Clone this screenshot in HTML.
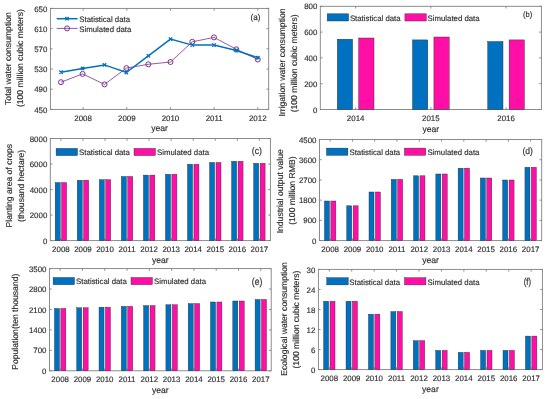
<!DOCTYPE html>
<html><head><meta charset="utf-8"><style>
html,body{margin:0;padding:0;background:#fff;width:550px;height:399px;overflow:hidden}
svg{display:block;font-family:"Liberation Sans",sans-serif;will-change:transform}
text{fill:#303030;stroke:#303030;stroke-width:0.16px;text-rendering:geometricPrecision}
</style></head><body>
<svg width="550" height="399" viewBox="0 0 550 399">
<rect width="550" height="399" fill="#fff"/>
<rect x="50.40" y="8.40" width="218.30" height="101.00" fill="none" stroke="#808080" stroke-width="0.9"/>
<path d="M83.14 109.40V107.20M83.14 8.40V10.60M126.80 109.40V107.20M126.80 8.40V10.60M170.47 109.40V107.20M170.47 8.40V10.60M214.12 109.40V107.20M214.12 8.40V10.60M257.78 109.40V107.20M257.78 8.40V10.60M50.40 109.40H52.60M268.70 109.40H266.50M50.40 89.20H52.60M268.70 89.20H266.50M50.40 69.00H52.60M268.70 69.00H266.50M50.40 48.80H52.60M268.70 48.80H266.50M50.40 28.60H52.60M268.70 28.60H266.50M50.40 8.40H52.60M268.70 8.40H266.50" stroke="#808080" stroke-width="0.9" fill="none"/>
<text x="83.14" y="120.70" text-anchor="middle" font-size="7.9">2008</text>
<text x="126.80" y="120.70" text-anchor="middle" font-size="7.9">2009</text>
<text x="170.47" y="120.70" text-anchor="middle" font-size="7.9">2010</text>
<text x="214.12" y="120.70" text-anchor="middle" font-size="7.9">2011</text>
<text x="257.78" y="120.70" text-anchor="middle" font-size="7.9">2012</text>
<text x="47.40" y="112.50" text-anchor="end" font-size="7.9">450</text>
<text x="47.40" y="92.30" text-anchor="end" font-size="7.9">490</text>
<text x="47.40" y="72.10" text-anchor="end" font-size="7.9">530</text>
<text x="47.40" y="51.90" text-anchor="end" font-size="7.9">570</text>
<text x="47.40" y="31.70" text-anchor="end" font-size="7.9">610</text>
<text x="47.40" y="11.50" text-anchor="end" font-size="7.9">650</text>
<polyline points="61.00,82.20 82.60,73.90 104.50,84.40 126.40,68.10 148.30,64.30 170.50,62.00 192.30,41.80 214.00,37.40 236.30,49.30 257.80,59.50" fill="none" stroke="#7E2F8E" stroke-width="0.8"/>
<circle cx="61.00" cy="82.20" r="2.5" fill="none" stroke="#7E2F8E" stroke-width="1.0"/>
<circle cx="82.60" cy="73.90" r="2.5" fill="none" stroke="#7E2F8E" stroke-width="1.0"/>
<circle cx="104.50" cy="84.40" r="2.5" fill="none" stroke="#7E2F8E" stroke-width="1.0"/>
<circle cx="126.40" cy="68.10" r="2.5" fill="none" stroke="#7E2F8E" stroke-width="1.0"/>
<circle cx="148.30" cy="64.30" r="2.5" fill="none" stroke="#7E2F8E" stroke-width="1.0"/>
<circle cx="170.50" cy="62.00" r="2.5" fill="none" stroke="#7E2F8E" stroke-width="1.0"/>
<circle cx="192.30" cy="41.80" r="2.5" fill="none" stroke="#7E2F8E" stroke-width="1.0"/>
<circle cx="214.00" cy="37.40" r="2.5" fill="none" stroke="#7E2F8E" stroke-width="1.0"/>
<circle cx="236.30" cy="49.30" r="2.5" fill="none" stroke="#7E2F8E" stroke-width="1.0"/>
<circle cx="257.80" cy="59.50" r="2.5" fill="none" stroke="#7E2F8E" stroke-width="1.0"/>
<polyline points="61.00,72.20 82.60,68.40 104.50,64.90 126.40,72.50 148.30,55.80 170.50,39.10 192.30,45.10 214.00,45.10 236.30,50.50 257.80,57.70" fill="none" stroke="#0070C0" stroke-width="1.5"/>
<path d="M59.30 70.50L62.70 73.90M59.30 73.90L62.70 70.50M80.90 66.70L84.30 70.10M80.90 70.10L84.30 66.70M102.80 63.20L106.20 66.60M102.80 66.60L106.20 63.20M124.70 70.80L128.10 74.20M124.70 74.20L128.10 70.80M146.60 54.10L150.00 57.50M146.60 57.50L150.00 54.10M168.80 37.40L172.20 40.80M168.80 40.80L172.20 37.40M190.60 43.40L194.00 46.80M190.60 46.80L194.00 43.40M212.30 43.40L215.70 46.80M212.30 46.80L215.70 43.40M234.60 48.80L238.00 52.20M234.60 52.20L238.00 48.80M256.10 56.00L259.50 59.40M256.10 59.40L259.50 56.00" stroke="#0070C0" stroke-width="1.3" fill="none"/>
<path d="M56.7 18.7H77.6" stroke="#0070C0" stroke-width="1.5"/>
<path d="M65.30 17.00L68.70 20.40M65.30 20.40L68.70 17.00" stroke="#0070C0" stroke-width="1.3"/>
<text x="79.30" y="21.50" text-anchor="start" font-size="7.8">Statistical data</text>
<path d="M56.7 28.4H77.6" stroke="#7E2F8E" stroke-width="0.8"/>
<circle cx="67.1" cy="28.4" r="2.5" fill="none" stroke="#7E2F8E" stroke-width="1.0"/>
<text x="79.30" y="31.90" text-anchor="start" font-size="7.8">Simulated data</text>
<text transform="translate(255.45,20.21) scale(1,1.04)" text-anchor="middle" font-size="8.1">(a)</text>
<text x="159.55" y="131.30" text-anchor="middle" font-size="8.6">year</text>
<text transform="translate(11.20,58.60) rotate(-90)" text-anchor="middle" font-size="8.6">Total water consumption</text>
<text transform="translate(22.70,58.10) rotate(-90)" text-anchor="middle" font-size="8.6">(100 million cubic meters)</text>
<rect x="320.30" y="6.30" width="221.10" height="103.20" fill="none" stroke="#808080" stroke-width="0.9"/>
<path d="M355.65 109.50V107.30M355.65 6.30V8.50M430.85 109.50V107.30M430.85 6.30V8.50M506.05 109.50V107.30M506.05 6.30V8.50M320.30 109.50H322.50M541.40 109.50H539.20M320.30 83.70H322.50M541.40 83.70H539.20M320.30 57.90H322.50M541.40 57.90H539.20M320.30 32.10H322.50M541.40 32.10H539.20M320.30 6.30H322.50M541.40 6.30H539.20" stroke="#808080" stroke-width="0.9" fill="none"/>
<text x="355.65" y="120.80" text-anchor="middle" font-size="7.9">2014</text>
<text x="430.85" y="120.80" text-anchor="middle" font-size="7.9">2015</text>
<text x="506.05" y="120.80" text-anchor="middle" font-size="7.9">2016</text>
<text x="317.30" y="112.60" text-anchor="end" font-size="7.9">0</text>
<text x="317.30" y="86.80" text-anchor="end" font-size="7.9">200</text>
<text x="317.30" y="61.00" text-anchor="end" font-size="7.9">400</text>
<text x="317.30" y="35.20" text-anchor="end" font-size="7.9">600</text>
<text x="317.30" y="9.40" text-anchor="end" font-size="7.9">800</text>
<rect x="337.30" y="39.20" width="15.30" height="70.30" fill="#0070C0" stroke="#262626" stroke-width="0.4"/>
<rect x="412.50" y="39.90" width="15.30" height="69.60" fill="#0070C0" stroke="#262626" stroke-width="0.4"/>
<rect x="487.70" y="41.50" width="15.30" height="68.00" fill="#0070C0" stroke="#262626" stroke-width="0.4"/>
<rect x="358.70" y="38.00" width="15.30" height="71.50" fill="#FF0FA6" stroke="#262626" stroke-width="0.4"/>
<rect x="433.90" y="37.00" width="15.30" height="72.50" fill="#FF0FA6" stroke="#262626" stroke-width="0.4"/>
<rect x="509.10" y="39.90" width="15.30" height="69.60" fill="#FF0FA6" stroke="#262626" stroke-width="0.4"/>
<rect x="327.20" y="13.80" width="21.40" height="7.20" fill="#0070C0" stroke="#262626" stroke-width="0.4"/>
<text x="349.90" y="20.70" text-anchor="start" font-size="7.8">Statistical data</text>
<rect x="404.90" y="13.80" width="21.40" height="7.20" fill="#FF0FA6" stroke="#262626" stroke-width="0.4"/>
<text x="427.60" y="20.70" text-anchor="start" font-size="7.8">Simulated data</text>
<text transform="translate(527.65,17.31) scale(1,1.05)" text-anchor="middle" font-size="7.6">(b)</text>
<text x="430.85" y="132.00" text-anchor="middle" font-size="8.6">year</text>
<text transform="translate(285.20,62.50) rotate(-90)" text-anchor="middle" font-size="8.6">Irrigation water consumption</text>
<text transform="translate(296.90,63.35) rotate(-90)" text-anchor="middle" font-size="8.6">(100 million cubic meters)</text>
<rect x="50.30" y="138.50" width="220.10" height="102.10" fill="none" stroke="#808080" stroke-width="0.9"/>
<path d="M60.90 240.60V238.40M60.90 138.50V140.70M82.96 240.60V238.40M82.96 138.50V140.70M105.01 240.60V238.40M105.01 138.50V140.70M127.07 240.60V238.40M127.07 138.50V140.70M149.12 240.60V238.40M149.12 138.50V140.70M171.18 240.60V238.40M171.18 138.50V140.70M193.23 240.60V238.40M193.23 138.50V140.70M215.29 240.60V238.40M215.29 138.50V140.70M237.34 240.60V238.40M237.34 138.50V140.70M259.40 240.60V238.40M259.40 138.50V140.70M50.30 240.60H52.50M270.40 240.60H268.20M50.30 215.07H52.50M270.40 215.07H268.20M50.30 189.55H52.50M270.40 189.55H268.20M50.30 164.03H52.50M270.40 164.03H268.20M50.30 138.50H52.50M270.40 138.50H268.20" stroke="#808080" stroke-width="0.9" fill="none"/>
<text x="60.90" y="251.90" text-anchor="middle" font-size="7.9">2008</text>
<text x="82.96" y="251.90" text-anchor="middle" font-size="7.9">2009</text>
<text x="105.01" y="251.90" text-anchor="middle" font-size="7.9">2010</text>
<text x="127.07" y="251.90" text-anchor="middle" font-size="7.9">2011</text>
<text x="149.12" y="251.90" text-anchor="middle" font-size="7.9">2012</text>
<text x="171.18" y="251.90" text-anchor="middle" font-size="7.9">2013</text>
<text x="193.23" y="251.90" text-anchor="middle" font-size="7.9">2014</text>
<text x="215.29" y="251.90" text-anchor="middle" font-size="7.9">2015</text>
<text x="237.34" y="251.90" text-anchor="middle" font-size="7.9">2016</text>
<text x="259.40" y="251.90" text-anchor="middle" font-size="7.9">2017</text>
<text x="47.30" y="243.70" text-anchor="end" font-size="7.9">0</text>
<text x="47.30" y="218.17" text-anchor="end" font-size="7.9">2000</text>
<text x="47.30" y="192.65" text-anchor="end" font-size="7.9">4000</text>
<text x="47.30" y="167.12" text-anchor="end" font-size="7.9">6000</text>
<text x="47.30" y="141.60" text-anchor="end" font-size="7.9">8000</text>
<rect x="55.20" y="182.60" width="5.00" height="58.00" fill="#0070C0" stroke="#262626" stroke-width="0.4"/>
<rect x="77.26" y="180.30" width="5.00" height="60.30" fill="#0070C0" stroke="#262626" stroke-width="0.4"/>
<rect x="99.31" y="179.70" width="5.00" height="60.90" fill="#0070C0" stroke="#262626" stroke-width="0.4"/>
<rect x="121.37" y="176.50" width="5.00" height="64.10" fill="#0070C0" stroke="#262626" stroke-width="0.4"/>
<rect x="143.42" y="175.10" width="5.00" height="65.50" fill="#0070C0" stroke="#262626" stroke-width="0.4"/>
<rect x="165.48" y="174.30" width="5.00" height="66.30" fill="#0070C0" stroke="#262626" stroke-width="0.4"/>
<rect x="187.53" y="164.30" width="5.00" height="76.30" fill="#0070C0" stroke="#262626" stroke-width="0.4"/>
<rect x="209.59" y="162.50" width="5.00" height="78.10" fill="#0070C0" stroke="#262626" stroke-width="0.4"/>
<rect x="231.64" y="161.30" width="5.00" height="79.30" fill="#0070C0" stroke="#262626" stroke-width="0.4"/>
<rect x="253.70" y="163.30" width="5.00" height="77.30" fill="#0070C0" stroke="#262626" stroke-width="0.4"/>
<rect x="61.60" y="182.60" width="5.00" height="58.00" fill="#FF0FA6" stroke="#262626" stroke-width="0.4"/>
<rect x="83.66" y="180.30" width="5.00" height="60.30" fill="#FF0FA6" stroke="#262626" stroke-width="0.4"/>
<rect x="105.71" y="179.70" width="5.00" height="60.90" fill="#FF0FA6" stroke="#262626" stroke-width="0.4"/>
<rect x="127.77" y="176.50" width="5.00" height="64.10" fill="#FF0FA6" stroke="#262626" stroke-width="0.4"/>
<rect x="149.82" y="175.10" width="5.00" height="65.50" fill="#FF0FA6" stroke="#262626" stroke-width="0.4"/>
<rect x="171.88" y="174.30" width="5.00" height="66.30" fill="#FF0FA6" stroke="#262626" stroke-width="0.4"/>
<rect x="193.93" y="164.30" width="5.00" height="76.30" fill="#FF0FA6" stroke="#262626" stroke-width="0.4"/>
<rect x="215.99" y="162.50" width="5.00" height="78.10" fill="#FF0FA6" stroke="#262626" stroke-width="0.4"/>
<rect x="238.04" y="161.30" width="5.00" height="79.30" fill="#FF0FA6" stroke="#262626" stroke-width="0.4"/>
<rect x="260.10" y="163.30" width="5.00" height="77.30" fill="#FF0FA6" stroke="#262626" stroke-width="0.4"/>
<rect x="56.10" y="148.40" width="21.40" height="7.20" fill="#0070C0" stroke="#262626" stroke-width="0.4"/>
<text x="79.10" y="154.80" text-anchor="start" font-size="7.8">Statistical data</text>
<rect x="134.00" y="148.40" width="21.40" height="7.20" fill="#FF0FA6" stroke="#262626" stroke-width="0.4"/>
<text x="157.00" y="154.80" text-anchor="start" font-size="7.8">Simulated data</text>
<text transform="translate(256.90,153.56) scale(1,1.1)" text-anchor="middle" font-size="8.75">(c)</text>
<text x="160.35" y="262.50" text-anchor="middle" font-size="8.6">year</text>
<text transform="translate(12.30,185.65) rotate(-90)" text-anchor="middle" font-size="8.6">Planting area of crops</text>
<text transform="translate(23.90,185.90) rotate(-90)" text-anchor="middle" font-size="8.6">(thousand hectare)</text>
<rect x="319.50" y="139.50" width="222.20" height="101.10" fill="none" stroke="#808080" stroke-width="0.9"/>
<path d="M330.15 240.60V238.40M330.15 139.50V141.70M352.43 240.60V238.40M352.43 139.50V141.70M374.71 240.60V238.40M374.71 139.50V141.70M396.98 240.60V238.40M396.98 139.50V141.70M419.26 240.60V238.40M419.26 139.50V141.70M441.54 240.60V238.40M441.54 139.50V141.70M463.82 240.60V238.40M463.82 139.50V141.70M486.09 240.60V238.40M486.09 139.50V141.70M508.37 240.60V238.40M508.37 139.50V141.70M530.65 240.60V238.40M530.65 139.50V141.70M319.50 240.60H321.70M541.70 240.60H539.50M319.50 220.38H321.70M541.70 220.38H539.50M319.50 200.16H321.70M541.70 200.16H539.50M319.50 179.94H321.70M541.70 179.94H539.50M319.50 159.72H321.70M541.70 159.72H539.50M319.50 139.50H321.70M541.70 139.50H539.50" stroke="#808080" stroke-width="0.9" fill="none"/>
<text x="330.15" y="251.90" text-anchor="middle" font-size="7.9">2008</text>
<text x="352.43" y="251.90" text-anchor="middle" font-size="7.9">2009</text>
<text x="374.71" y="251.90" text-anchor="middle" font-size="7.9">2010</text>
<text x="396.98" y="251.90" text-anchor="middle" font-size="7.9">2011</text>
<text x="419.26" y="251.90" text-anchor="middle" font-size="7.9">2012</text>
<text x="441.54" y="251.90" text-anchor="middle" font-size="7.9">2013</text>
<text x="463.82" y="251.90" text-anchor="middle" font-size="7.9">2014</text>
<text x="486.09" y="251.90" text-anchor="middle" font-size="7.9">2015</text>
<text x="508.37" y="251.90" text-anchor="middle" font-size="7.9">2016</text>
<text x="530.65" y="251.90" text-anchor="middle" font-size="7.9">2017</text>
<text x="316.50" y="243.70" text-anchor="end" font-size="7.9">0</text>
<text x="316.50" y="223.48" text-anchor="end" font-size="7.9">900</text>
<text x="316.50" y="203.26" text-anchor="end" font-size="7.9">1800</text>
<text x="316.50" y="183.04" text-anchor="end" font-size="7.9">2700</text>
<text x="316.50" y="162.82" text-anchor="end" font-size="7.9">3600</text>
<text x="316.50" y="142.60" text-anchor="end" font-size="7.9">4500</text>
<rect x="324.45" y="201.00" width="5.00" height="39.60" fill="#0070C0" stroke="#262626" stroke-width="0.4"/>
<rect x="346.73" y="205.80" width="5.00" height="34.80" fill="#0070C0" stroke="#262626" stroke-width="0.4"/>
<rect x="369.01" y="192.00" width="5.00" height="48.60" fill="#0070C0" stroke="#262626" stroke-width="0.4"/>
<rect x="391.28" y="179.40" width="5.00" height="61.20" fill="#0070C0" stroke="#262626" stroke-width="0.4"/>
<rect x="413.56" y="175.80" width="5.00" height="64.80" fill="#0070C0" stroke="#262626" stroke-width="0.4"/>
<rect x="435.84" y="174.00" width="5.00" height="66.60" fill="#0070C0" stroke="#262626" stroke-width="0.4"/>
<rect x="458.12" y="168.20" width="5.00" height="72.40" fill="#0070C0" stroke="#262626" stroke-width="0.4"/>
<rect x="480.39" y="178.00" width="5.00" height="62.60" fill="#0070C0" stroke="#262626" stroke-width="0.4"/>
<rect x="502.67" y="180.00" width="5.00" height="60.60" fill="#0070C0" stroke="#262626" stroke-width="0.4"/>
<rect x="524.95" y="167.30" width="5.00" height="73.30" fill="#0070C0" stroke="#262626" stroke-width="0.4"/>
<rect x="330.85" y="201.00" width="5.00" height="39.60" fill="#FF0FA6" stroke="#262626" stroke-width="0.4"/>
<rect x="353.13" y="205.80" width="5.00" height="34.80" fill="#FF0FA6" stroke="#262626" stroke-width="0.4"/>
<rect x="375.41" y="192.00" width="5.00" height="48.60" fill="#FF0FA6" stroke="#262626" stroke-width="0.4"/>
<rect x="397.68" y="179.40" width="5.00" height="61.20" fill="#FF0FA6" stroke="#262626" stroke-width="0.4"/>
<rect x="419.96" y="175.80" width="5.00" height="64.80" fill="#FF0FA6" stroke="#262626" stroke-width="0.4"/>
<rect x="442.24" y="174.00" width="5.00" height="66.60" fill="#FF0FA6" stroke="#262626" stroke-width="0.4"/>
<rect x="464.52" y="168.20" width="5.00" height="72.40" fill="#FF0FA6" stroke="#262626" stroke-width="0.4"/>
<rect x="486.79" y="178.00" width="5.00" height="62.60" fill="#FF0FA6" stroke="#262626" stroke-width="0.4"/>
<rect x="509.07" y="180.00" width="5.00" height="60.60" fill="#FF0FA6" stroke="#262626" stroke-width="0.4"/>
<rect x="531.35" y="167.30" width="5.00" height="73.30" fill="#FF0FA6" stroke="#262626" stroke-width="0.4"/>
<rect x="326.50" y="148.10" width="21.40" height="7.20" fill="#0070C0" stroke="#262626" stroke-width="0.4"/>
<text x="349.50" y="154.60" text-anchor="start" font-size="7.8">Statistical data</text>
<rect x="404.40" y="148.10" width="21.40" height="7.20" fill="#FF0FA6" stroke="#262626" stroke-width="0.4"/>
<text x="427.40" y="154.60" text-anchor="start" font-size="7.8">Simulated data</text>
<text transform="translate(527.65,154.23) scale(1,1.08)" text-anchor="middle" font-size="8.6">(d)</text>
<text x="430.60" y="262.50" text-anchor="middle" font-size="8.6">year</text>
<text transform="translate(283.20,191.30) rotate(-90)" text-anchor="middle" font-size="8.6">Industrial output value</text>
<text transform="translate(294.90,190.65) rotate(-90)" text-anchor="middle" font-size="8.6">(100 million RMB)</text>
<rect x="49.50" y="268.60" width="221.70" height="102.20" fill="none" stroke="#808080" stroke-width="0.9"/>
<path d="M60.15 370.80V368.60M60.15 268.60V270.80M82.44 370.80V368.60M82.44 268.60V270.80M104.74 370.80V368.60M104.74 268.60V270.80M127.03 370.80V368.60M127.03 268.60V270.80M149.33 370.80V368.60M149.33 268.60V270.80M171.62 370.80V368.60M171.62 268.60V270.80M193.92 370.80V368.60M193.92 268.60V270.80M216.21 370.80V368.60M216.21 268.60V270.80M238.51 370.80V368.60M238.51 268.60V270.80M260.80 370.80V368.60M260.80 268.60V270.80M49.50 370.80H51.70M271.20 370.80H269.00M49.50 350.36H51.70M271.20 350.36H269.00M49.50 329.92H51.70M271.20 329.92H269.00M49.50 309.48H51.70M271.20 309.48H269.00M49.50 289.04H51.70M271.20 289.04H269.00M49.50 268.60H51.70M271.20 268.60H269.00" stroke="#808080" stroke-width="0.9" fill="none"/>
<text x="60.15" y="382.10" text-anchor="middle" font-size="7.9">2008</text>
<text x="82.44" y="382.10" text-anchor="middle" font-size="7.9">2009</text>
<text x="104.74" y="382.10" text-anchor="middle" font-size="7.9">2010</text>
<text x="127.03" y="382.10" text-anchor="middle" font-size="7.9">2011</text>
<text x="149.33" y="382.10" text-anchor="middle" font-size="7.9">2012</text>
<text x="171.62" y="382.10" text-anchor="middle" font-size="7.9">2013</text>
<text x="193.92" y="382.10" text-anchor="middle" font-size="7.9">2014</text>
<text x="216.21" y="382.10" text-anchor="middle" font-size="7.9">2015</text>
<text x="238.51" y="382.10" text-anchor="middle" font-size="7.9">2016</text>
<text x="260.80" y="382.10" text-anchor="middle" font-size="7.9">2017</text>
<text x="46.50" y="373.90" text-anchor="end" font-size="7.9">0</text>
<text x="46.50" y="353.46" text-anchor="end" font-size="7.9">700</text>
<text x="46.50" y="333.02" text-anchor="end" font-size="7.9">1400</text>
<text x="46.50" y="312.58" text-anchor="end" font-size="7.9">2100</text>
<text x="46.50" y="292.14" text-anchor="end" font-size="7.9">2800</text>
<text x="46.50" y="271.70" text-anchor="end" font-size="7.9">3500</text>
<rect x="54.45" y="308.50" width="5.00" height="62.30" fill="#0070C0" stroke="#262626" stroke-width="0.4"/>
<rect x="76.74" y="307.80" width="5.00" height="63.00" fill="#0070C0" stroke="#262626" stroke-width="0.4"/>
<rect x="99.04" y="307.20" width="5.00" height="63.60" fill="#0070C0" stroke="#262626" stroke-width="0.4"/>
<rect x="121.33" y="306.40" width="5.00" height="64.40" fill="#0070C0" stroke="#262626" stroke-width="0.4"/>
<rect x="143.63" y="305.60" width="5.00" height="65.20" fill="#0070C0" stroke="#262626" stroke-width="0.4"/>
<rect x="165.92" y="304.80" width="5.00" height="66.00" fill="#0070C0" stroke="#262626" stroke-width="0.4"/>
<rect x="188.22" y="303.60" width="5.00" height="67.20" fill="#0070C0" stroke="#262626" stroke-width="0.4"/>
<rect x="210.51" y="302.00" width="5.00" height="68.80" fill="#0070C0" stroke="#262626" stroke-width="0.4"/>
<rect x="232.81" y="301.00" width="5.00" height="69.80" fill="#0070C0" stroke="#262626" stroke-width="0.4"/>
<rect x="255.10" y="299.50" width="5.00" height="71.30" fill="#0070C0" stroke="#262626" stroke-width="0.4"/>
<rect x="60.85" y="308.50" width="5.00" height="62.30" fill="#FF0FA6" stroke="#262626" stroke-width="0.4"/>
<rect x="83.14" y="307.80" width="5.00" height="63.00" fill="#FF0FA6" stroke="#262626" stroke-width="0.4"/>
<rect x="105.44" y="307.20" width="5.00" height="63.60" fill="#FF0FA6" stroke="#262626" stroke-width="0.4"/>
<rect x="127.73" y="306.40" width="5.00" height="64.40" fill="#FF0FA6" stroke="#262626" stroke-width="0.4"/>
<rect x="150.03" y="305.60" width="5.00" height="65.20" fill="#FF0FA6" stroke="#262626" stroke-width="0.4"/>
<rect x="172.32" y="304.80" width="5.00" height="66.00" fill="#FF0FA6" stroke="#262626" stroke-width="0.4"/>
<rect x="194.62" y="303.60" width="5.00" height="67.20" fill="#FF0FA6" stroke="#262626" stroke-width="0.4"/>
<rect x="216.91" y="302.00" width="5.00" height="68.80" fill="#FF0FA6" stroke="#262626" stroke-width="0.4"/>
<rect x="239.21" y="301.00" width="5.00" height="69.80" fill="#FF0FA6" stroke="#262626" stroke-width="0.4"/>
<rect x="261.50" y="299.50" width="5.00" height="71.30" fill="#FF0FA6" stroke="#262626" stroke-width="0.4"/>
<rect x="53.10" y="277.50" width="21.40" height="7.20" fill="#0070C0" stroke="#262626" stroke-width="0.4"/>
<text x="76.10" y="284.00" text-anchor="start" font-size="7.8">Statistical data</text>
<rect x="131.00" y="277.50" width="21.40" height="7.20" fill="#FF0FA6" stroke="#262626" stroke-width="0.4"/>
<text x="154.00" y="284.00" text-anchor="start" font-size="7.8">Simulated data</text>
<text transform="translate(257.05,284.71) scale(1,1.2)" text-anchor="middle" font-size="8.6">(e)</text>
<text x="160.35" y="392.70" text-anchor="middle" font-size="8.6">year</text>
<text transform="translate(17.60,321.70) rotate(-90)" text-anchor="middle" font-size="8.6">Population(ten thousand)</text>
<rect x="318.40" y="269.40" width="224.00" height="100.20" fill="none" stroke="#808080" stroke-width="0.9"/>
<path d="M329.30 369.60V367.40M329.30 269.40V271.60M351.73 369.60V367.40M351.73 269.40V271.60M374.16 369.60V367.40M374.16 269.40V271.60M396.58 369.60V367.40M396.58 269.40V271.60M419.01 369.60V367.40M419.01 269.40V271.60M441.44 369.60V367.40M441.44 269.40V271.60M463.87 369.60V367.40M463.87 269.40V271.60M486.29 369.60V367.40M486.29 269.40V271.60M508.72 369.60V367.40M508.72 269.40V271.60M531.15 369.60V367.40M531.15 269.40V271.60M318.40 369.60H320.60M542.40 369.60H540.20M318.40 349.56H320.60M542.40 349.56H540.20M318.40 329.52H320.60M542.40 329.52H540.20M318.40 309.48H320.60M542.40 309.48H540.20M318.40 289.44H320.60M542.40 289.44H540.20M318.40 269.40H320.60M542.40 269.40H540.20" stroke="#808080" stroke-width="0.9" fill="none"/>
<text x="329.30" y="380.90" text-anchor="middle" font-size="7.9">2008</text>
<text x="351.73" y="380.90" text-anchor="middle" font-size="7.9">2009</text>
<text x="374.16" y="380.90" text-anchor="middle" font-size="7.9">2010</text>
<text x="396.58" y="380.90" text-anchor="middle" font-size="7.9">2011</text>
<text x="419.01" y="380.90" text-anchor="middle" font-size="7.9">2012</text>
<text x="441.44" y="380.90" text-anchor="middle" font-size="7.9">2013</text>
<text x="463.87" y="380.90" text-anchor="middle" font-size="7.9">2014</text>
<text x="486.29" y="380.90" text-anchor="middle" font-size="7.9">2015</text>
<text x="508.72" y="380.90" text-anchor="middle" font-size="7.9">2016</text>
<text x="531.15" y="380.90" text-anchor="middle" font-size="7.9">2017</text>
<text x="315.40" y="372.70" text-anchor="end" font-size="7.9">0</text>
<text x="315.40" y="352.66" text-anchor="end" font-size="7.9">6</text>
<text x="315.40" y="332.62" text-anchor="end" font-size="7.9">12</text>
<text x="315.40" y="312.58" text-anchor="end" font-size="7.9">18</text>
<text x="315.40" y="292.54" text-anchor="end" font-size="7.9">24</text>
<text x="315.40" y="272.50" text-anchor="end" font-size="7.9">30</text>
<rect x="323.60" y="301.30" width="5.00" height="68.30" fill="#0070C0" stroke="#262626" stroke-width="0.4"/>
<rect x="346.03" y="301.30" width="5.00" height="68.30" fill="#0070C0" stroke="#262626" stroke-width="0.4"/>
<rect x="368.46" y="314.20" width="5.00" height="55.40" fill="#0070C0" stroke="#262626" stroke-width="0.4"/>
<rect x="390.88" y="311.60" width="5.00" height="58.00" fill="#0070C0" stroke="#262626" stroke-width="0.4"/>
<rect x="413.31" y="340.70" width="5.00" height="28.90" fill="#0070C0" stroke="#262626" stroke-width="0.4"/>
<rect x="435.74" y="350.40" width="5.00" height="19.20" fill="#0070C0" stroke="#262626" stroke-width="0.4"/>
<rect x="458.17" y="352.40" width="5.00" height="17.20" fill="#0070C0" stroke="#262626" stroke-width="0.4"/>
<rect x="480.59" y="350.40" width="5.00" height="19.20" fill="#0070C0" stroke="#262626" stroke-width="0.4"/>
<rect x="503.02" y="350.40" width="5.00" height="19.20" fill="#0070C0" stroke="#262626" stroke-width="0.4"/>
<rect x="525.45" y="336.10" width="5.00" height="33.50" fill="#0070C0" stroke="#262626" stroke-width="0.4"/>
<rect x="330.00" y="301.30" width="5.00" height="68.30" fill="#FF0FA6" stroke="#262626" stroke-width="0.4"/>
<rect x="352.43" y="301.30" width="5.00" height="68.30" fill="#FF0FA6" stroke="#262626" stroke-width="0.4"/>
<rect x="374.86" y="314.20" width="5.00" height="55.40" fill="#FF0FA6" stroke="#262626" stroke-width="0.4"/>
<rect x="397.28" y="311.60" width="5.00" height="58.00" fill="#FF0FA6" stroke="#262626" stroke-width="0.4"/>
<rect x="419.71" y="340.70" width="5.00" height="28.90" fill="#FF0FA6" stroke="#262626" stroke-width="0.4"/>
<rect x="442.14" y="350.40" width="5.00" height="19.20" fill="#FF0FA6" stroke="#262626" stroke-width="0.4"/>
<rect x="464.57" y="352.40" width="5.00" height="17.20" fill="#FF0FA6" stroke="#262626" stroke-width="0.4"/>
<rect x="486.99" y="350.40" width="5.00" height="19.20" fill="#FF0FA6" stroke="#262626" stroke-width="0.4"/>
<rect x="509.42" y="350.40" width="5.00" height="19.20" fill="#FF0FA6" stroke="#262626" stroke-width="0.4"/>
<rect x="531.85" y="336.10" width="5.00" height="33.50" fill="#FF0FA6" stroke="#262626" stroke-width="0.4"/>
<rect x="326.80" y="277.70" width="21.40" height="7.20" fill="#0070C0" stroke="#262626" stroke-width="0.4"/>
<text x="349.30" y="284.70" text-anchor="start" font-size="7.8">Statistical data</text>
<rect x="404.50" y="277.70" width="21.40" height="7.20" fill="#FF0FA6" stroke="#262626" stroke-width="0.4"/>
<text x="427.50" y="284.70" text-anchor="start" font-size="7.8">Simulated data</text>
<text transform="translate(527.35,284.81) scale(1,1.28)" text-anchor="middle" font-size="7.7">(f)</text>
<text x="430.40" y="391.50" text-anchor="middle" font-size="8.6">year</text>
<text transform="translate(286.80,319.00) rotate(-90)" text-anchor="middle" font-size="8.6">Ecological water consumption</text>
<text transform="translate(298.90,319.55) rotate(-90)" text-anchor="middle" font-size="8.6">(100 million cubic meters)</text>
</svg>
</body></html>
